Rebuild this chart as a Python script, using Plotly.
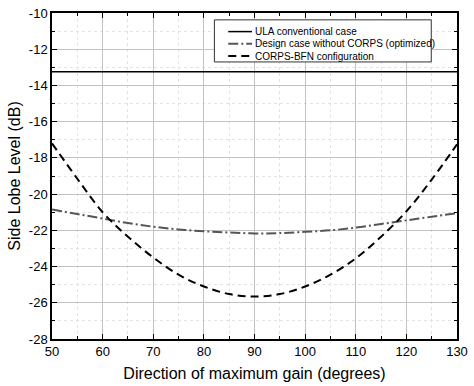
import plotly.graph_objects as go

# Data
angles = [50, 55, 60, 65, 70, 75, 80, 85, 90, 95, 100, 105, 110, 115, 120, 125, 130]
ula_level = [-13.25] * len(angles)
design_no_corps = [-20.85, -21.1, -21.35, -21.6, -21.8, -21.95, -22.05, -22.12, -22.17,
                   -22.15, -22.08, -22.0, -21.85, -21.65, -21.45, -21.25, -21.05]
corps_bfn = [-17.2, -19.15, -21.0, -22.35, -23.5, -24.45, -25.1, -25.52, -25.65,
             -25.52, -25.1, -24.45, -23.55, -22.35, -20.95, -19.2, -17.25]

series_names = ["ULA conventional case",
                "Design case without CORPS (optimized)",
                "CORPS-BFN configuration"]

x_ticks = [50, 60, 70, 80, 90, 100, 110, 120, 130]
x_ticktext = [str(v) for v in x_ticks]
y_ticks = [-28, -26, -24, -22, -20, -18, -16, -14, -12, -10]
y_ticktext = [str(v) for v in y_ticks]

font_family = "Liberation Sans, Arial, sans-serif"

W, H = 474, 386
ML, MR, MT, MB = 52, 13, 6, 47
PW, PH = W - ML - MR, H - MT - MB


def px_x(p):
    return (p - ML) / PW


def px_y(p):
    return 1 - (p - MT) / PH


styles = [
    dict(color="black", width=1.5),
    dict(color="#555555", width=2, dash="10px,3px,2px,3px"),
    dict(color="black", width=2, dash="8px,5px"),
]

fig = go.Figure()
for name, ys, st in zip(series_names, [ula_level, design_no_corps, corps_bfn], styles):
    line = dict(st)
    if ys is not ula_level:
        line["shape"] = "spline"
    fig.add_trace(go.Scatter(x=angles, y=ys, mode="lines", name=name,
                             line=line, showlegend=False))

axis_common = dict(
    showline=True, linecolor="black", linewidth=1.5, mirror="allticks",
    ticks="inside", ticklen=5, tickwidth=1.2, tickcolor="black",
    showgrid=True, gridcolor="#c2c2c2", gridwidth=1, zeroline=False,
    tickfont=dict(family=font_family, size=13, color="black"),
)

fig.update_xaxes(
    range=[50, 130], tickvals=x_ticks, ticktext=x_ticktext,
    title=dict(text="Direction of maximum gain (degrees)",
               font=dict(family=font_family, size=16, color="black"), standoff=9),
    minor=dict(dtick=5, tick0=50, ticks="inside", ticklen=3, tickcolor="black",
               showgrid=True, gridcolor="#e3e3e3", griddash="dot", gridwidth=1),
    **axis_common)
fig.update_yaxes(
    range=[-28, -10], tickvals=y_ticks, ticktext=y_ticktext,
    title=dict(text="Side Lobe Level (dB)",
               font=dict(family=font_family, size=16, color="black"), standoff=4),
    minor=dict(dtick=1, tick0=-28, ticks="inside", ticklen=3, tickcolor="black",
               showgrid=True, gridcolor="#e3e3e3", griddash="dot", gridwidth=1),
    **axis_common)

# Custom legend (box, line samples, labels)
shapes = [dict(type="rect", xref="paper", yref="paper",
               x0=px_x(216), x1=px_x(435), y0=px_y(56), y1=px_y(13),
               line=dict(color="#333333", width=1), fillcolor="white", layer="above")]
annotations = []
row_y = [25, 37.5, 50]
for name, st, ry in zip(series_names, styles, row_y):
    ln = dict(color=st["color"], width=st["width"])
    if "dash" in st:
        ln["dash"] = st["dash"]
    shapes.append(dict(type="line", xref="paper", yref="paper",
                       x0=px_x(230), x1=px_x(254), y0=px_y(ry), y1=px_y(ry),
                       line=ln, layer="above"))
    annotations.append(dict(xref="paper", yref="paper", x=px_x(255), y=px_y(ry),
                            xanchor="left", yanchor="middle", text=name, showarrow=False,
                            font=dict(family=font_family, size=10, color="black")))

fig.update_layout(
    width=W, height=H,
    margin=dict(l=ML, r=MR, t=MT, b=MB),
    plot_bgcolor="white", paper_bgcolor="white",
    font=dict(family=font_family, color="black"),
    shapes=shapes, annotations=annotations,
    showlegend=False,
)

fig.write_html("out.html", config={"displayModeBar": False},
               post_script="document.body.style.margin='0';document.body.style.overflow='hidden';")
